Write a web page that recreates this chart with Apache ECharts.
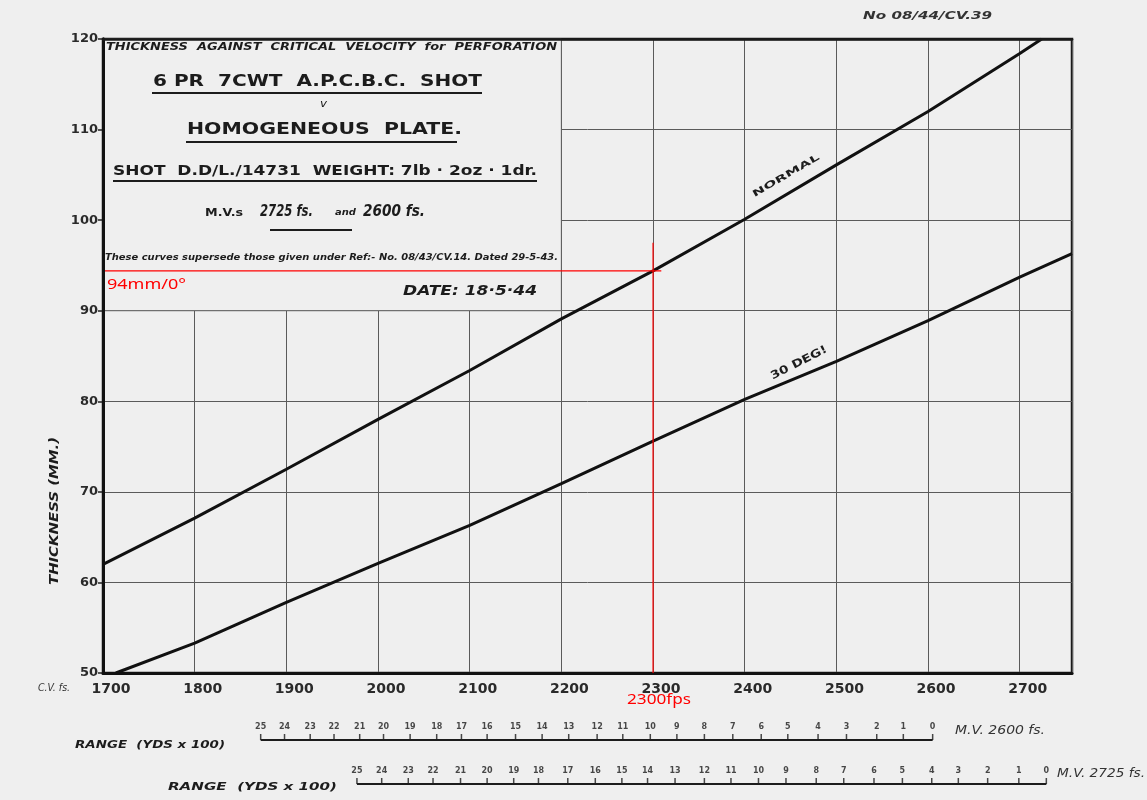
<!DOCTYPE html>
<html><head><meta charset="utf-8">
<script src="https://cdn.jsdelivr.net/npm/echarts@6/dist/echarts.min.js"></script>
<style>html,body{margin:0;padding:0;background:#efefef}#c{width:1147px;height:800px}</style>
</head><body><div id="c"></div>
<script>
// ---- data ----
const velTicks = [1700,1800,1900,2000,2100,2200,2300,2400,2500,2600,2700];
const thickTicks = [50,60,70,80,90,100,110,120];
const normalVel = [1700,1800,1900,2000,2100,2200,2300,2400,2500,2600,2700,2724];
const normalMM  = [62.0,67.1,72.5,78.0,83.4,89.1,94.4,100.1,106.1,112.0,118.4,120];
const deg30Vel  = [1714,1800,1900,2000,2100,2200,2300,2400,2500,2600,2700,2757];
const deg30MM   = [50,53.3,57.8,62.1,66.3,70.9,75.6,80.2,84.4,88.9,93.7,96.3];
const rangeYds  = [25,24,23,22,21,20,19,18,17,16,15,14,13,12,11,10,9,8,7,6,5,4,3,2,1,0];
const vel2600   = [1872,1898,1926,1952,1980,2006,2035,2064,2091,2119,2150,2179,2208,2239,2267,2297,2326,2356,2387,2418,2447,2480,2511,2544,2573,2605];
const vel2725   = [1977,2004,2033,2060,2090,2119,2148,2175,2207,2237,2266,2294,2324,2356,2385,2415,2445,2478,2508,2541,2572,2604,2633,2665,2699,2729];
const refVel = 2300, refMM = 94.4, refTopMM = 97.5, refLeftVel = 1688, refRightVel = 2309;
const xMin = 1700, xMax = 2757, yMin = 50, yMax = 120;
const boxVel = [1700, 2200], boxMM = [90, 120];

// ---- helpers ----
const INK = '#1c1c1c';
const mctx = document.createElement('canvas').getContext('2d');
function fit(text, font, x0, x1, yc, fill) {
  mctx.font = font;
  const w = mctx.measureText(text).width;
  return {type:'text', x:x0, y:yc, scaleX:(x1-x0)/w, silent:true, z:100,
    style:{text:text, font:font, fill:fill||INK, align:'left', verticalAlign:'middle', textAlign:'left', textVerticalAlign:'middle'}};
}
function fitC(text, font, cx, cy, len, rot, fill) {
  mctx.font = font;
  const w = mctx.measureText(text).width;
  return {type:'text', x:cx, y:cy, rotation:rot, scaleX:len/w, silent:true, z:100,
    style:{text:text, font:font, fill:fill||INK, align:'center', verticalAlign:'middle', textAlign:'center', textVerticalAlign:'middle'}};
}
function uline(x1, x2, y, w) {
  return {type:'line', silent:true, z:100, shape:{x1:x1, y1:y, x2:x2, y2:y}, style:{stroke:INK, lineWidth:w||2}};
}
const B = "'DejaVu Sans'";
const graphics = [
  fit('THICKNESS  AGAINST  CRITICAL  VELOCITY  for  PERFORATION', 'italic bold 10px ' + B, 106, 557, 47),
  fit('6 PR  7CWT  A.P.C.B.C.  SHOT', 'bold 16px ' + B, 153, 482, 82),
  uline(152, 482, 93),
  fit('v', 'italic 11px ' + B, 320, 327, 104),
  fit('HOMOGENEOUS  PLATE.', 'bold 15px ' + B, 187, 462, 130),
  uline(186, 457, 142),
  fit('SHOT  D.D/L./14731  WEIGHT: 7lb · 2oz · 1dr.', 'bold 14px ' + B, 113, 537, 171),
  uline(113, 537, 181),
  fit('M.V.s', 'bold 11px ' + B, 205, 243, 213),
  fit('2725 fs.', 'italic bold 15px ' + B, 260, 313, 212),
  fit('and', 'italic bold 9px ' + B, 335, 356, 213),
  fit('2600 fs.', 'italic bold 15px ' + B, 363, 425, 212),
  uline(270, 352, 230),
  fit('These curves supersede those given under Ref:- No. 08/43/CV.14. Dated 29-5-43.', 'italic bold 8px ' + B, 105, 558, 258),
  fit('DATE: 18·5·44', 'italic bold 14px ' + B, 403, 537, 291),
  fit('No 08/44/CV.39', 'italic bold 10px ' + B, 863, 992, 16, '#333'),
  fitC('THICKNESS (MM.)', 'italic bold 12px ' + B, 55, 511, 148, Math.PI / 2),
  fit('C.V. fs.', 'italic 11px ' + B, 38, 70, 688, '#333'),
  fitC('NORMAL', 'bold 9px ' + B, 786, 176, 76, 0.53),
  fitC('30 DEG!', 'bold 11px ' + B, 799, 363, 62, 0.47),
  fit('RANGE  (YDS x 100)', 'italic bold 11px ' + B, 75, 225, 745),
  fit('RANGE  (YDS x 100)', 'italic bold 11px ' + B, 168, 337, 787),
  fit('M.V. 2600 fs.', 'italic 12px ' + B, 955, 1045, 731, '#333'),
  fit('M.V. 2725 fs.', 'italic 12px ' + B, 1057, 1145, 774, '#333'),
  fit('94mm/0°', "15px 'Noto Sans'", 107, 186, 285, '#ff0000'),
  fit('2300fps', "15px 'Noto Sans'", 627, 691, 700, '#ff0000')
];

const axisLabelStyle = {color:'#2a2a2a', fontFamily:'DejaVu Sans', fontWeight:'bold', fontSize:14};

function rangeSeries(vels, gi) {
  return [
    {type:'line', xAxisIndex:gi, yAxisIndex:gi, data:[[vels[0],0],[vels[vels.length-1],0]], symbol:'none',
      lineStyle:{color:INK, width:2}, silent:true},
    {type:'scatter', xAxisIndex:gi, yAxisIndex:gi, data:vels.map(v => [v, 0]), symbol:'rect',
      symbolSize:[1.5, 6], symbolOffset:[0, -3], itemStyle:{color:INK}, silent:true,
      label:{show:true, position:'top', distance:3, formatter:p => String(rangeYds[p.dataIndex]),
        fontSize:8, fontWeight:'bold', color:INK, fontFamily:'DejaVu Sans'}}
  ];
}

const chart = echarts.init(document.getElementById('c'), null, {renderer:'canvas'});
chart.setOption({
  backgroundColor:'#efefef',
  animation:false,
  grid:[
    {left:103, right:75, top:39, bottom:127, show:true, borderColor:'#1a1a1a', borderWidth:2.5, backgroundColor:'transparent'},
    {left:103, right:75, top:730, height:10},
    {left:103, right:75, top:774, height:10}
  ],
  xAxis:[
    {type:'value', gridIndex:0, min:xMin, max:xMax, interval:100,
      axisLine:{show:true, onZero:false, lineStyle:{color:'#111', width:3}},
      axisTick:{show:false},
      axisLabel:Object.assign({margin:9, padding:[0,0,0,16], showMaxLabel:false,
        formatter:v => velTicks.indexOf(v) >= 0 ? String(v) : ''}, axisLabelStyle),
      splitLine:{show:true, lineStyle:{color:'#5a5a5a', width:1}}},
    {type:'value', gridIndex:1, min:xMin, max:xMax, show:false},
    {type:'value', gridIndex:2, min:xMin, max:xMax, show:false},
    {type:'value', gridIndex:0, position:'top', min:xMin, max:xMax, z:10,
      axisLine:{show:true, onZero:false, lineStyle:{color:'#1a1a1a', width:2.5}},
      axisTick:{show:false}, axisLabel:{show:false}, splitLine:{show:false}}
  ],
  yAxis:[
    {type:'value', gridIndex:0, min:yMin, max:yMax, interval:10,
      axisLine:{show:true, onZero:false, lineStyle:{color:'#111', width:3}},
      axisTick:{show:true, length:5, lineStyle:{color:'#222', width:1.5}},
      axisLabel:Object.assign({margin:5, formatter:v => thickTicks.indexOf(v) >= 0 ? String(v) : ''}, axisLabelStyle, {fontSize:13}),
      splitLine:{show:true, lineStyle:{color:'#5a5a5a', width:1}}},
    {type:'value', gridIndex:1, min:0, max:1, show:false},
    {type:'value', gridIndex:2, min:0, max:1, show:false},
    {type:'value', gridIndex:0, position:'left', min:yMin, max:yMax, z:10,
      axisLine:{show:true, onZero:false, lineStyle:{color:'#111', width:3}},
      axisTick:{show:false}, axisLabel:{show:false}, splitLine:{show:false}}
  ],
  graphic:graphics,
  series:[
    {name:'NORMAL', type:'line', data:normalVel.map((v, i) => [v, normalMM[i]]), symbol:'none',
      lineStyle:{color:'#111', width:3}, z:5,
      markArea:{silent:true, itemStyle:{color:'#efefef', borderColor:'#5a5a5a', borderWidth:1},
        data:[[{xAxis:boxVel[0], yAxis:boxMM[1]}, {xAxis:boxVel[1], yAxis:boxMM[0]}]]}},
    {name:'30 DEG', type:'line', data:deg30Vel.map((v, i) => [v, deg30MM[i]]), symbol:'none',
      lineStyle:{color:'#111', width:3}, z:5},
    {name:'ref-h', type:'line', clip:false, data:[[refLeftVel, refMM], [refRightVel, refMM]], symbol:'none',
      lineStyle:{color:'#ff0000', width:1.2}, z:6, silent:true},
    {name:'ref-v', type:'line', clip:false, data:[[refVel, refTopMM], [refVel, yMin]], symbol:'none',
      lineStyle:{color:'#ff0000', width:1.2}, z:6, silent:true}
  ].concat(rangeSeries(vel2600, 1), rangeSeries(vel2725, 2))
});
</script>
</body></html>
